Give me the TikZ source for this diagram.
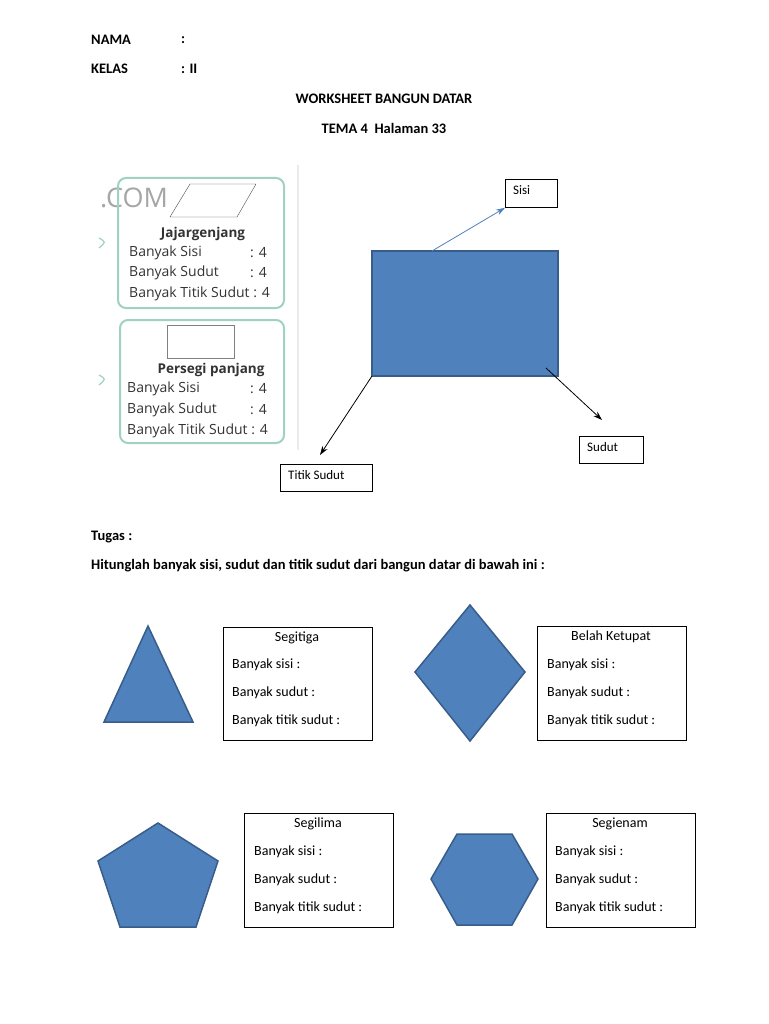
\documentclass[tikz,border=0pt]{standalone}
\usepackage{fontspec}
\setmainfont{Carlito}
\newfontfamily\insetfont{Open Sans}
\usetikzlibrary{arrows.meta}
\begin{document}
\begin{tikzpicture}[x=1pt,y=-1pt,
  hdr/.style={anchor=west,font=\fontsize{14.5}{16}\selectfont\bfseries,inner sep=0},
  lab/.style={anchor=west,font=\fontsize{14}{16}\selectfont,inner sep=0},
  shp/.style={fill={rgb,255:red,79;green,129;blue,189},draw={rgb,255:red,56;green,93;blue,138},line width=1.5pt,line join=miter},
  ibox/.style={draw={rgb,255:red,160;green,210;blue,192},line width=2pt,rounded corners=8pt},
  itxt/.style={anchor=west,font=\insetfont\fontsize{14}{16}\selectfont,text=black!80,inner sep=0},
  cbox/.style={draw,line width=0.8pt},
  arr/.style={-{Stealth[length=9pt,width=6pt]},line width=0.8pt}]
\useasboundingbox (0,0) rectangle (768,1024);
\fill[white] (0,0) rectangle (768,1024);
% header
\node[hdr] (n1) at (91,40) {NAMA};
\node[hdr] (n2) at (181,40) {:};
\node[hdr] (k1) at (91,69) {KELAS};
\node[hdr] (k2) at (181,69) {: II};
\node[hdr,anchor=center] (t1) at (384,99) {WORKSHEET BANGUN DATAR};
\node[hdr,anchor=center] (t2) at (384,128) {TEMA 4\ \ Halaman 33};
% inset
\draw[black!8,line width=2pt] (298,165) -- (298,450);
\node[anchor=west,inner sep=0,font=\insetfont\fontsize{27}{29}\selectfont,text=black!35] (com) at (100,198) {.COM};
\draw[ibox] (118,178) rectangle (284,308);
\draw[black!70] (190,184) -- (256,184) -- (237,217) -- (170,217) -- cycle;
\node[anchor=center,inner sep=0,font=\insetfont\bfseries\fontsize{13.5}{15}\selectfont,text=black!80] (jj) at (203,234) {Jajargenjang};
\node[itxt] (a1) at (129,253) {Banyak Sisi}; \node[itxt] (a1b) at (250,253) {: 4};
\node[itxt] (a2) at (129,273) {Banyak Sudut}; \node[itxt] (a2b) at (250,273) {: 4};
\node[itxt] (a3) at (129,294) {Banyak Titik Sudut : 4};
\draw[ibox] (120,320) rectangle (284,443);
\draw[black!50] (167,325) rectangle (234,358);
\node[anchor=center,inner sep=0,font=\insetfont\bfseries\fontsize{13.5}{15}\selectfont,text=black!80] (pp) at (211,370) {Persegi panjang};
\node[itxt] (b1) at (127,389) {Banyak Sisi}; \node[itxt] (b1b) at (250,389) {: 4};
\node[itxt] (b2) at (127,410) {Banyak Sudut}; \node[itxt] (b2b) at (250,410) {: 4};
\node[itxt] (b3) at (127,431) {Banyak Titik Sudut : 4};
\draw[ibox,rounded corners=0,line width=1.2pt] (99,238) .. controls (106,242) .. (99,248);
\draw[ibox,rounded corners=0,line width=1.2pt] (99,375) .. controls (106,379) .. (99,385);
% big rectangle
\draw[shp] (372,251) rectangle (558,376);
\coordinate (s0) at (432,251);
\coordinate (d0) at (546,368);
\coordinate (t0) at (372,376);
\node[cbox,minimum width=52pt,minimum height=28pt,anchor=north west] (sisi) at (505,179) {};
\node[lab,font=\fontsize{13}{15}\selectfont] at (513,190) {Sisi};
\node[cbox,minimum width=64pt,minimum height=27pt,anchor=north west] (sudut) at (579,436) {};
\node[lab,font=\fontsize{13}{15}\selectfont] at (587,447) {Sudut};
\node[cbox,minimum width=92pt,minimum height=27pt,anchor=north west] (titik) at (280,464) {};
\node[lab,font=\fontsize{13}{15}\selectfont] at (288,475) {Titik Sudut};
\draw[arr,draw={rgb,255:red,79;green,129;blue,189}] (s0) -- (sisi.south west);
\draw[arr] (d0) -- (602,420) coordinate (d1);
\draw[arr] (t0) -- (320,455) coordinate (t1c);
% tasks
\node[hdr] (tg) at (91,537) {Tugas :};
\node[hdr] (hg) at (91,566) {Hitunglah banyak sisi, sudut dan titik sudut dari bangun datar di bawah ini :};
% shapes
\draw[shp] (104,722) -- (193,722) -- (148,626) -- cycle;
\draw[shp] (470,605) -- (525,672) -- (470,741) -- (415,672) -- cycle;
\draw[shp] (98,861) -- (158,823) -- (218,861) -- (196,927) -- (120,927) -- cycle;
\draw[shp] (431,879) -- (457,834) -- (512,834) -- (538,879) -- (512,925) -- (457,925) -- cycle;
% boxes
\node[cbox,minimum width=149pt,minimum height=113pt,anchor=north west] (b1x) at (223,627) {};
\node[lab,anchor=center] at (297,638) {Segitiga};
\node[lab] at (232,665) {Banyak sisi :};
\node[lab] at (232,693) {Banyak sudut :};
\node[lab] at (232,721) {Banyak titik sudut :};
\node[cbox,minimum width=149pt,minimum height=114pt,anchor=north west] (b2x) at (537,626) {};
\node[lab,anchor=center] at (611,637) {Belah Ketupat};
\node[lab] at (547,665) {Banyak sisi :};
\node[lab] at (547,693) {Banyak sudut :};
\node[lab] at (547,721) {Banyak titik sudut :};
\node[cbox,minimum width=149pt,minimum height=114pt,anchor=north west] (b3x) at (244,813) {};
\node[lab,anchor=center] at (318,824) {Segilima};
\node[lab] at (254,852) {Banyak sisi :};
\node[lab] at (254,880) {Banyak sudut :};
\node[lab] at (254,908) {Banyak titik sudut :};
\node[cbox,minimum width=149pt,minimum height=114pt,anchor=north west] (b4x) at (546,813) {};
\node[lab,anchor=center] at (620,824) {Segienam};
\node[lab] at (555,852) {Banyak sisi :};
\node[lab] at (555,880) {Banyak sudut :};
\node[lab] at (555,908) {Banyak titik sudut :};
\end{tikzpicture}
\end{document}
